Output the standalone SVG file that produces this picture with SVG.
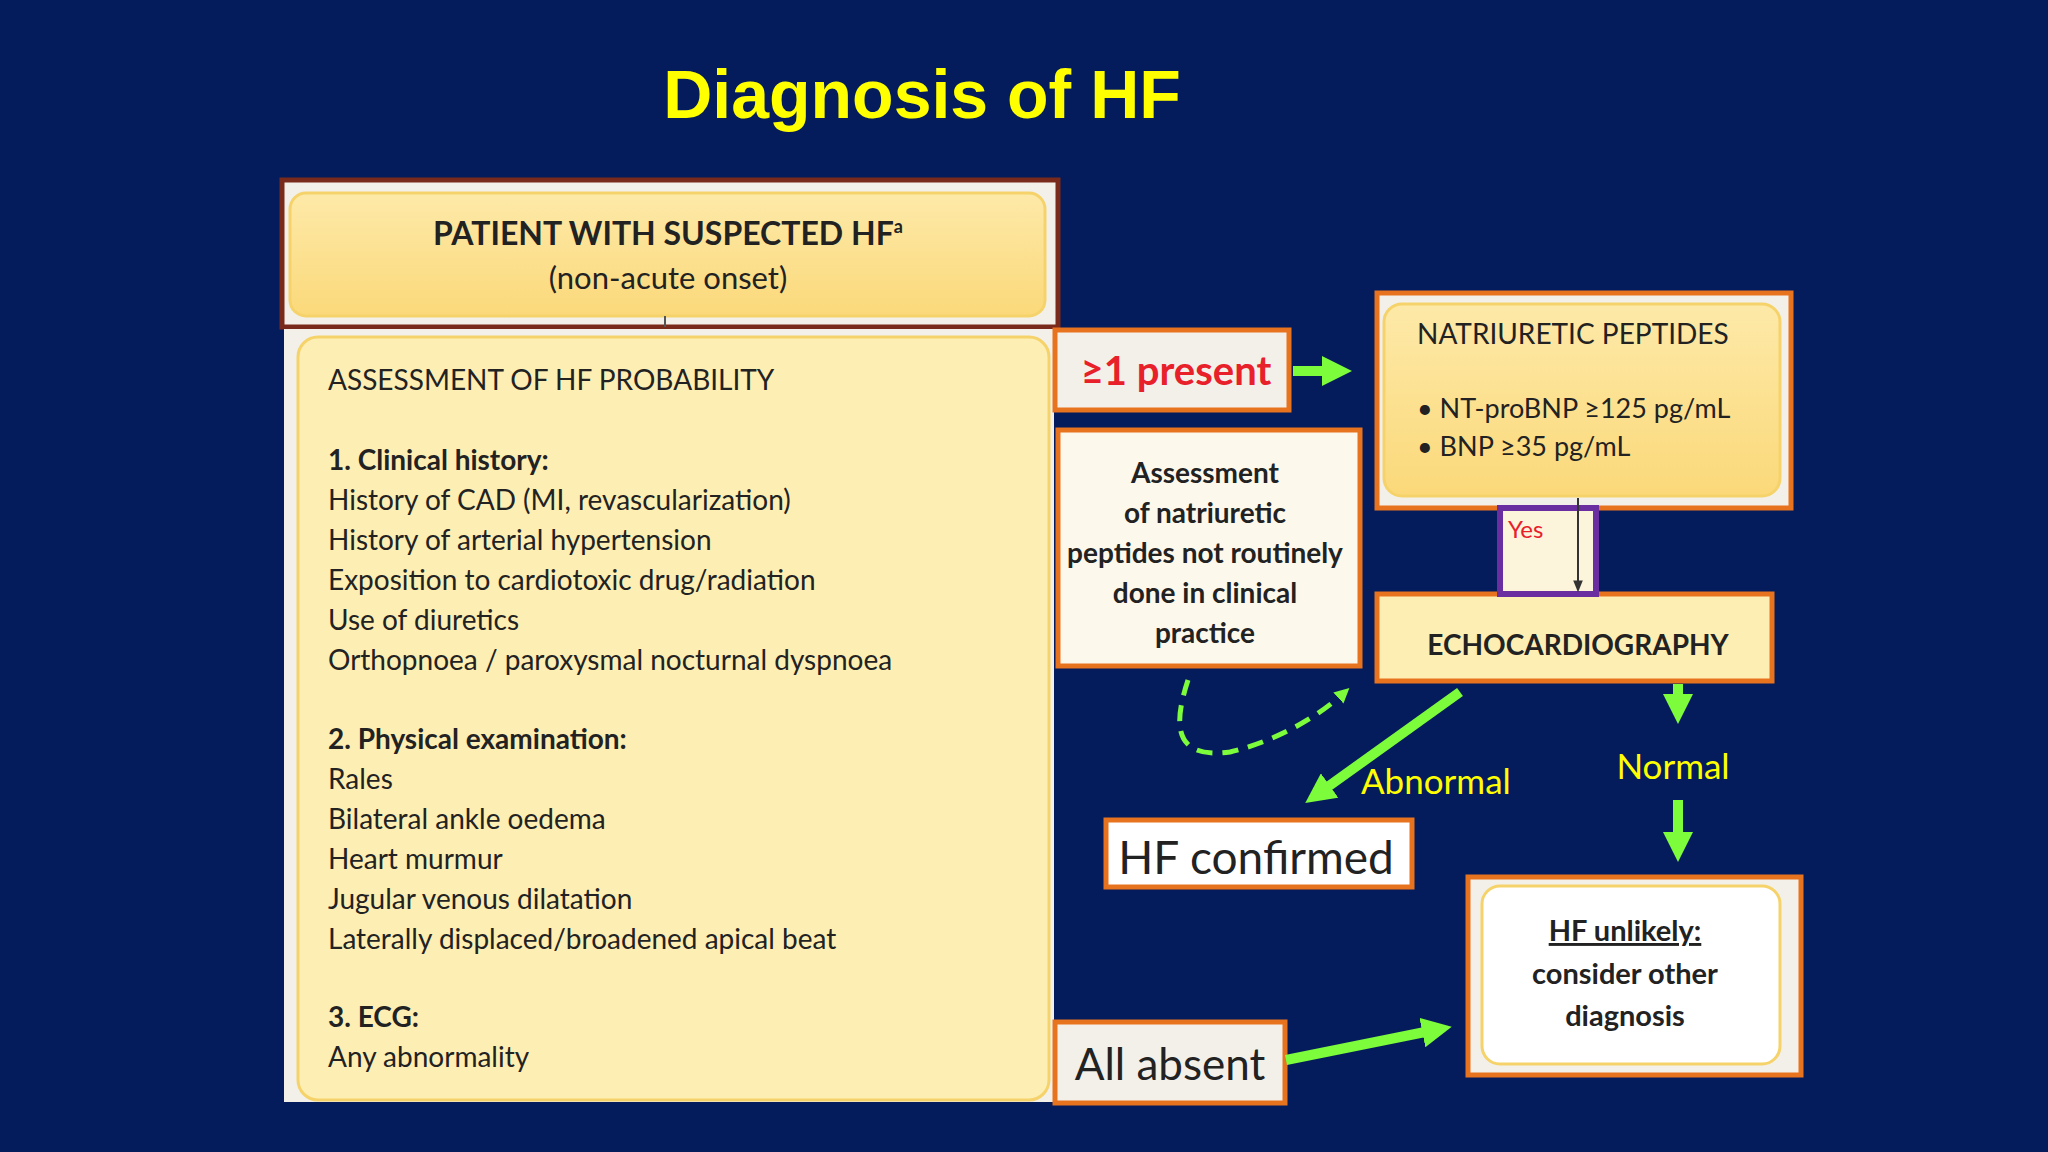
<svg xmlns="http://www.w3.org/2000/svg" width="2048" height="1152" viewBox="0 0 2048 1152">
<defs>
<style>
.t{font-family:Lato,"Open Sans",sans-serif;fill:#222}
.b{font-weight:bold}
.or{stroke:#e8731f;stroke-width:5}
.g{stroke:#7cfc3a;stroke-width:10;fill:none}
</style>
<marker id="ga" viewBox="0 0 10 10" refX="6" refY="5" markerWidth="3" markerHeight="3" orient="auto" markerUnits="strokeWidth"><path d="M0,0L10,5L0,10z" fill="#7cfc3a"/></marker>
<marker id="ka" viewBox="0 0 10 10" refX="8" refY="5" markerWidth="6" markerHeight="6" orient="auto"><path d="M0,1L10,5L0,9z" fill="#333"/></marker>
<linearGradient id="y" x1="0" y1="0" x2="0" y2="1"><stop offset="0" stop-color="#fde9a8"/><stop offset="1" stop-color="#fbd97a"/></linearGradient>
</defs>
<rect width="2048" height="1152" fill="#051c5c"/>
<text x="922" y="118" text-anchor="middle" font-family="Liberation Sans,Arial,sans-serif" font-weight="bold" font-size="68" fill="#ffff00">Diagnosis of HF</text>

<g id="patient">
<rect x="282" y="180" width="776" height="147" fill="#f3f0ea" stroke="#7a2a1a" stroke-width="5"/>
<rect x="290" y="193" width="755" height="123" rx="16" fill="url(#y)" stroke="#f5d36a" stroke-width="3"/>
<text x="668" y="245" text-anchor="middle" class="t b" font-size="32">PATIENT WITH SUSPECTED HF<tspan font-size="18" dy="-12">a</tspan></text>
<text x="668" y="289" text-anchor="middle" class="t" font-size="31">(non-acute onset)</text>
<line x1="665" y1="316" x2="665" y2="327" stroke="#555" stroke-width="2"/>
</g>

<g id="assessment">
<rect x="284" y="329" width="770" height="773" fill="#f3f0ea"/>
<rect x="298" y="337" width="751" height="763" rx="20" fill="#fdeeb3" stroke="#f5d36a" stroke-width="3"/>
<g class="t" font-size="28">
<text x="328" y="390">ASSESSMENT OF HF PROBABILITY</text>
<text x="328" y="470" font-weight="bold">1. Clinical history:</text>
<text x="328" y="510">History of CAD (MI, revascularization)</text>
<text x="328" y="550">History of arterial hypertension</text>
<text x="328" y="590">Exposition to cardiotoxic drug/radiation</text>
<text x="328" y="630">Use of diuretics</text>
<text x="328" y="670">Orthopnoea / paroxysmal nocturnal dyspnoea</text>
<text x="328" y="749" font-weight="bold">2. Physical examination:</text>
<text x="328" y="789">Rales</text>
<text x="328" y="829">Bilateral ankle oedema</text>
<text x="328" y="869">Heart murmur</text>
<text x="328" y="909">Jugular venous dilatation</text>
<text x="328" y="949">Laterally displaced/broadened apical beat</text>
<text x="328" y="1027" font-weight="bold">3. ECG:</text>
<text x="328" y="1067">Any abnormality</text>
</g>
</g>

<g id="present">
<rect x="1055" y="330" width="234" height="80" style="fill:#f3f0ea" class="or"/>
<text x="1176" y="385" text-anchor="middle" class="t b" font-size="40" style="fill:#e8202a">≥1 present</text>
</g>

<g id="natriuretic">
<rect x="1377" y="293" width="414" height="215" style="fill:#f3f0ea" class="or"/>
<rect x="1384" y="304" width="396" height="192" rx="18" fill="url(#y)" stroke="#f5d36a" stroke-width="3"/>
<text x="1417" y="344" class="t" font-size="28">NATRIURETIC PEPTIDES</text>
<text x="1417" y="418" class="t" font-size="27">• NT-proBNP ≥125 pg/mL</text>
<text x="1417" y="456" class="t" font-size="27">• BNP  ≥35 pg/mL</text>
</g>

<g id="notroutine">
<rect x="1058" y="430" width="302" height="236" style="fill:#fdf8ec" class="or"/>
<g class="t b" font-size="28" text-anchor="middle">
<text x="1205" y="483">Assessment</text>
<text x="1205" y="523">of natriuretic</text>
<text x="1205" y="563">peptides not routinely</text>
<text x="1205" y="603">done in clinical</text>
<text x="1205" y="643">practice</text>
</g>
</g>

<g id="echo">
<rect x="1377" y="594" width="395" height="87" style="fill:#fdeeb3" class="or"/>
<text x="1578" y="655" text-anchor="middle" class="t b" font-size="28">ECHOCARDIOGRAPHY</text>
</g>

<g id="hfconfirmed">
<rect x="1106" y="820" width="306" height="67" style="fill:#fff" class="or"/>
<text x="1256" y="874" text-anchor="middle" class="t" font-size="46">HF confirmed</text>
</g>

<g id="hfunlikely">
<rect x="1468" y="877" width="333" height="198" style="fill:#f3f0ea" class="or"/>
<rect x="1482" y="886" width="298" height="178" rx="18" fill="#fff" stroke="#f5d36a" stroke-width="3"/>
<g class="t b" font-size="29" text-anchor="middle">
<text x="1625" y="941" text-decoration="underline">HF unlikely:</text>
<text x="1625" y="984">consider other</text>
<text x="1625" y="1026">diagnosis</text>
</g>
</g>

<g id="allabsent">
<rect x="1055" y="1022" width="230" height="81" style="fill:#f3f0ea" class="or"/>
<text x="1170" y="1080" text-anchor="middle" class="t" font-size="44">All absent</text>
</g>

<g id="connectors">
<rect x="1500" y="508" width="96" height="86" fill="#fdf4dc" stroke="#6a2ea0" stroke-width="6"/>
<text x="1508" y="538" font-family="Lato,sans-serif" font-size="24" fill="#e8202a">Yes</text>
<line x1="1578" y1="498" x2="1578" y2="590" stroke="#333" stroke-width="2" marker-end="url(#ka)"/>
<line x1="1293" y1="371" x2="1340" y2="371" class="g" marker-end="url(#ga)"/>
<path d="M1188,680 C1175,720 1170,760 1230,752 C1280,740 1320,715 1345,692" class="g" stroke-dasharray="16,10" marker-end="url(#ga)" style="stroke-width:5"/>
<line x1="1460" y1="692" x2="1315" y2="796" class="g" marker-end="url(#ga)"/>
<line x1="1678" y1="684" x2="1678" y2="712" class="g" marker-end="url(#ga)"/>
<line x1="1678" y1="800" x2="1678" y2="850" class="g" marker-end="url(#ga)"/>
<line x1="1286" y1="1060" x2="1440" y2="1029" class="g" marker-end="url(#ga)"/>
<text x="1361" y="794" font-family="Lato,sans-serif" font-size="35" fill="#ffff00">Abnormal</text>
<text x="1673" y="779" text-anchor="middle" font-family="Lato,sans-serif" font-size="35" fill="#ffff00">Normal</text>
</g>
</svg>
